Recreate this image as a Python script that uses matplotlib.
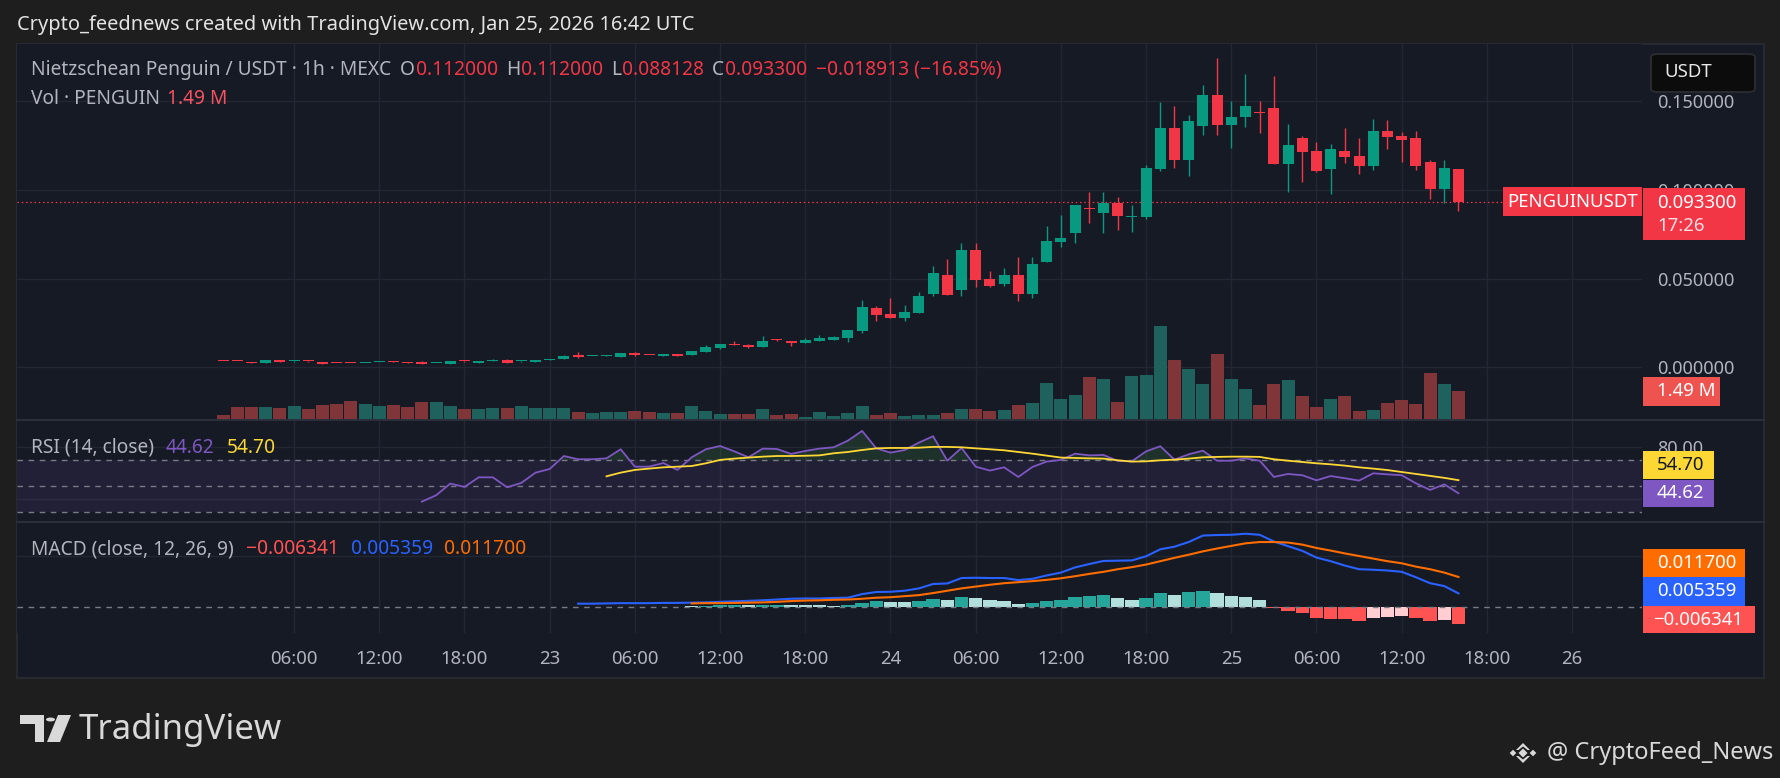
import matplotlib
matplotlib.use('Agg')
import matplotlib.pyplot as plt
import numpy as np
from matplotlib.patches import Rectangle, FancyBboxPatch, Polygon, Circle
from matplotlib.lines import Line2D

# ---------------- data ----------------
# candle open time in hours relative to 25 Jan 2026 00:00 UTC (1h candles)
hours = list(range(-71, 17))
opens = [.0034, .0034, .0030, .0026, .0041, .0033, .0035, .0030, .0025, .0025,
         .0024, .0029, .0030, .0030, .0032, .0023, .0021, .0034, .0023, .0036,
         .0041, .0033, .0031, .0043, .0045, .0071, .0063, .0065, .0060, .0081,
         .0070, .0066, .0075, .0068, .0088, .0111, .0131, .0128, .0116, .0154,
         .0148, .0139, .0150, .0156, .0167, .0207, .0334, .0301, .0280, .0308,
         .0415, .0521, .0438, .0662, .0498, .0472, .0521, .0415, .0596, .0709,
         .0759, .0897, .0872, .0927, .0848, .0850, .1120, .1350, .1171, .1363,
         .1536, .1369, .1414, .1438, .1462, .1149, .1293, .1220, .1120, .1220,
         .1192, .1137, .1333, .1305, .1293, .1158, .1007, .1120]
highs = [.0035, .0035, .0032, .0043, .0042, .0035, .0038, .0031, .0026, .0027,
         .0025, .0032, .0035, .0031, .0033, .0024, .0036, .0035, .0037, .0046,
         .0044, .0035, .0043, .0048, .0070, .0086, .0065, .0067, .0082, .0085,
         .0071, .0076, .0076, .0094, .0124, .0133, .0146, .0129, .0177, .0160,
         .0150, .0163, .0182, .0178, .0210, .0380, .0348, .0393, .0351, .0427,
         .0572, .0611, .0701, .0701, .0543, .0560, .0622, .0622, .0799, .0859,
         .0917, .0989, .0989, .0961, .0915, .1141, .1496, .1474, .1423, .1592,
         .1744, .1502, .1654, .1502, .1643, .1372, .1305, .1271, .1259, .1350,
         .1293, .1400, .1395, .1327, .1333, .1169, .1169, .1120]
lows = [.0033, .0033, .0026, .0025, .0031, .0032, .0032, .0020, .0023, .0023,
        .0023, .0028, .0029, .0025, .0020, .0022, .0020, .0032, .0022, .0035,
        .0025, .0032, .0030, .0042, .0044, .0054, .0062, .0064, .0059, .0066,
        .0068, .0065, .0065, .0067, .0087, .0101, .0124, .0107, .0114, .0148,
        .0122, .0138, .0149, .0155, .0145, .0195, .0263, .0280, .0263, .0308,
        .0404, .0410, .0404, .0455, .0455, .0460, .0376, .0393, .0596, .0680,
        .0703, .0816, .0759, .0776, .0765, .0838, .1109, .1126, .1081, .1312,
        .1312, .1239, .1357, .1323, .1149, .0991, .1047, .1103, .0979, .1154,
        .1092, .1115, .1233, .1160, .1115, .0951, .0929, .088128]
closes = [.0033, .0033, .0026, .0041, .0032, .0034, .0034, .0021, .0024, .0024,
          .0025, .0030, .0029, .0026, .0021, .0024, .0035, .0033, .0036, .0043,
          .0026, .0034, .0041, .0047, .0066, .0060, .0064, .0066, .0081, .0068,
          .0069, .0075, .0066, .0092, .0115, .0131, .0128, .0116, .0148, .0152,
          .0139, .0154, .0163, .0171, .0210, .0340, .0297, .0280, .0312, .0402,
          .0532, .0410, .0662, .0494, .0460, .0521, .0415, .0583, .0712, .0729,
          .0917, .0893, .0927, .0855, .0852, .1124, .1350, .1171, .1389, .1536,
          .1369, .1412, .1474, .1434, .1149, .1254, .1216, .1109, .1231, .1188,
          .1137, .1333, .1301, .1284, .1137, .1007, .1124, .0933]
volume_m = [0.26, 0.67, 0.67, 0.67, 0.62, 0.74, 0.57, 0.77, 0.82, 0.98,
            0.82, 0.72, 0.77, 0.67, 0.92, 0.92, 0.72, 0.57, 0.57, 0.62,
            0.62, 0.72, 0.62, 0.62, 0.62, 0.41, 0.36, 0.41, 0.41, 0.46,
            0.41, 0.36, 0.36, 0.72, 0.46, 0.31, 0.31, 0.31, 0.57, 0.26,
            0.31, 0.15, 0.41, 0.21, 0.36, 0.72, 0.26, 0.36, 0.21, 0.26,
            0.26, 0.36, 0.57, 0.57, 0.46, 0.51, 0.77, 0.87, 1.90, 1.08,
            1.28, 2.21, 2.11, 0.92, 2.28, 2.33, 4.83, 3.08, 2.62, 1.87,
            3.39, 2.13, 1.59, 0.77, 1.87, 2.06, 1.23, 0.67, 1.08, 1.23,
            0.46, 0.51, 0.87, 1.03, 0.82, 2.42, 1.85, 1.49]
# RSI(14) from the 15th candle, its MA from the 28th candle
rsi = [38.2, 43.1, 52.1, 49.5, 56.9, 56.9, 49.2, 52.6, 60.5, 63.3,
       73.3, 70.8, 70.8, 71.5, 78.5, 65.1, 65.1, 67.9, 62.6, 72.3,
       78.5, 81.0, 76.9, 72.3, 79.0, 78.7, 74.9, 77.2, 79.0, 80.0,
       85.1, 92.6, 79.2, 75.9, 77.9, 83.6, 88.5, 69.7, 79.5, 65.1,
       62.1, 64.6, 57.2, 64.9, 69.0, 70.3, 75.1, 73.8, 74.1, 69.5,
       69.2, 76.9, 80.8, 70.5, 74.6, 77.4, 69.7, 69.7, 71.5, 69.7,
       57.2, 59.5, 58.5, 54.6, 57.9, 56.2, 54.4, 60.0, 59.2, 58.5,
       52.3, 47.2, 51.5, 44.62]
rsi_ma = [57.7, 60.5, 62.6, 63.6, 64.6, 65.1, 65.6, 67.7, 70.3, 71.3,
          72.1, 72.8, 73.3, 73.3, 73.5, 73.8, 75.4, 76.4, 77.9, 79.2,
          79.5, 79.5, 79.7, 80.3, 80.3, 80.0, 79.2, 78.5, 77.7, 76.4,
          75.1, 73.6, 72.1, 71.8, 71.5, 71.3, 70.0, 69.0, 69.2, 70.0,
          70.5, 71.3, 72.3, 72.6, 72.8, 72.8, 72.6, 70.8, 69.7, 68.7,
          67.7, 66.9, 65.9, 64.6, 63.6, 62.5, 61.0, 59.5, 58.0, 56.5,
          54.70]
# MACD(12,26,9): MACD line from the 26th candle, signal & histogram from the 34th
macd = [.0014, .0014, .0015, .0016, .0016, .0016, .0017, .0017, .0018, .0019,
        .0021, .0023, .0025, .0027, .0030, .0033, .0034, .0034, .0036, .0037,
        .0051, .0059, .0060, .0064, .0073, .0090, .0092, .0113, .0114, .0113,
        .0113, .0105, .0110, .0123, .0134, .0154, .0167, .0179, .0180, .0181,
        .0197, .0224, .0234, .0252, .0277, .0279, .0280, .0284, .0280, .0254,
        .0236, .0218, .0192, .0178, .0161, .0147, .0145, .0142, .0137, .0116,
        .0093, .0082, .005359]
signal = [.0015, .0016, .0016, .0017, .0018, .0019, .0021, .0024, .0026, .0027,
          .0029, .0030, .0033, .0037, .0039, .0043, .0047, .0055, .0064, .0073,
          .0080, .0087, .0093, .0097, .0101, .0106, .0112, .0120, .0129, .0137,
          .0147, .0155, .0165, .0178, .0191, .0203, .0216, .0227, .0237, .0247,
          .0252, .0252, .0250, .0242, .0229, .0219, .0208, .0198, .0188, .0178,
          .0170, .0157, .0147, .0134, .0117]
hist = [.0005, .0006, .0008, .0009, .0008, .0009, .0010, .0009, .0008, .0007,
        .0006, .0008, .0017, .0023, .0022, .0021, .0026, .0032, .0027, .0040,
        .0036, .0028, .0026, .0013, .0017, .0024, .0030, .0041, .0045, .0046,
        .0036, .0028, .0036, .0055, .0049, .0058, .0063, .0055, .0045, .0040,
        .0028, -.0004, -.0013, -.0023, -.0040, -.0045, -.0046, -.0051, -.0040, -.0036,
        -.0033, -.0040, -.0051, -.0050, -.006341]
tick_hours = [-66, -60, -54, -48, -42, -36, -30, -24, -18, -12, -6, 0, 6, 12, 18, 24]
tick_labels = ['06:00', '12:00', '18:00', '23', '06:00', '12:00', '18:00', '24',
               '06:00', '12:00', '18:00', '25', '06:00', '12:00', '18:00', '26']
price_ticks = [0.0, 0.05, 0.10, 0.15]
last_price = 0.0933
last_volume = 1.49

# ---------------- style ----------------
W, H = 1781, 778
FONT = ['Noto Sans', 'DejaVu Sans']
plt.rcParams['font.family'] = FONT
OUTER = '#1e1e1e'
BG = '#161a25'
GRID = '#232733'
SEP = '#2c303c'
TXT = '#b2b5be'
UP = '#089981'
DN = '#f23645'
LEG = 13.8

fig = plt.figure(figsize=(W / 100, H / 100), dpi=100, facecolor=OUTER)


def fr(x0, y0, x1, y1):
    return [x0 / W, 1 - y1 / H, (x1 - x0) / W, (y1 - y0) / H]


def fx(x):
    return x / W


def fy(y):
    return 1 - y / H


# chart panel
fig.add_artist(Rectangle((fx(17), fy(678)), (1764 - 17) / W, (678 - 44) / H,
                         transform=fig.transFigure, fc=BG, ec='#2a2d35', lw=1.2, zorder=-5))

XMIN = (17 - 1231.3) / 14.2
XMAX = (1642 - 1231.3) / 14.2


def setup(ax, face=BG):
    ax.set_facecolor(face)
    for s in ax.spines.values():
        s.set_visible(False)
    ax.set_xlim(XMIN, XMAX)
    ax.set_xticks(tick_hours)
    ax.tick_params(length=0, labelbottom=False, labelleft=False)
    ax.set_axisbelow(True)


h = np.array(hours, dtype=float)
O = np.array(opens); Hh = np.array(highs); L = np.array(lows); C = np.array(closes)
up = C >= O
ccol = np.where(up, UP, DN)

# ---- main price pane ----
ax_p = fig.add_axes(fr(17, 44, 1642, 420))
setup(ax_p)
ax_p.set_zorder(1)
ax_p.set_ylim((367.3 - 420) / 1773, (367.3 - 44) / 1773)
ax_p.grid(True, color=GRID, lw=1)
ax_p.yaxis.tick_right()
ax_p.set_yticks(price_ticks)
ax_p.set_yticklabels(['%.6f' % v for v in price_ticks])
ax_p.tick_params(axis='y', labelright=True, pad=11, labelsize=13, labelcolor=TXT)
ax_p.vlines(h, L, Hh, colors=ccol, lw=1.0, zorder=3)
body = np.maximum(np.abs(C - O), 0.0006)
ax_p.bar(h, body, bottom=np.minimum(O, C), width=0.77, color=ccol, lw=0, zorder=4)
ax_p.axhline(last_price, color=DN, lw=0.9, ls=(0, (1.2, 2.2)), zorder=2)

# ---- volume (overlay) ----
ax_v = fig.add_axes(fr(17, 44, 1642, 420), sharex=ax_p)
setup(ax_v, face='none')
ax_v.set_zorder(2)
ax_v.set_xticks([])
ax_v.set_yticks([])
ax_v.set_ylim(0, 376 / 19.46)
vcol = np.where(up, '#1f615c', '#803539')
ax_v.bar(h, volume_m, width=0.92, color=vcol, lw=0)

# ---- RSI pane ----
ax_r = fig.add_axes(fr(17, 420, 1642, 522), sharex=ax_p)
setup(ax_r)
ax_r.set_ylim(50 - (522 - 486.3) / 1.3, 50 + (486.3 - 420) / 1.3)
ax_r.set_yticks([40, 80])
ax_r.grid(True, color=GRID, lw=1)
ax_r.yaxis.tick_right()
ax_r.set_yticklabels(['40.00', '80.00'])
ax_r.tick_params(axis='y', labelright=True, pad=11, labelsize=13, labelcolor=TXT)
ax_r.axhspan(30, 70, color='#7e57c2', alpha=0.11, lw=0)
for lv in (70, 50, 30):
    ax_r.axhline(lv, color='#787b86', lw=1, ls=(0, (4, 4)))
hr = h[14:]
rr = np.array(rsi)
ax_r.fill_between(hr, rr, 70, where=rr >= 70, interpolate=True, color='#4caf50', alpha=0.16, lw=0)
ax_r.plot(hr, rr, color='#7e57c2', lw=1.3)
ax_r.plot(h[27:], rsi_ma, color='#fdd835', lw=1.3)

# ---- MACD pane ----
ax_m = fig.add_axes(fr(17, 522, 1642, 633), sharex=ax_p)
setup(ax_m)
ax_m.set_ylim((607.3 - 633) / 2590, (607.3 - 522) / 2590)
ax_m.set_yticks([0.02])
ax_m.grid(True, color=GRID, lw=1)
ax_m.set_yticklabels([])
ax_m.axhline(0, color='#787b86', lw=1, ls=(0, (4, 4)))
hs = np.array(hist)
hcol = []
for k, v in enumerate(hs):
    prev = hs[k - 1] if k > 0 else v
    if v >= 0:
        hcol.append('#26a69a' if v > prev else '#b2dfdb')
    else:
        hcol.append('#ff5252' if v < prev else '#ffcdd2')
ax_m.bar(h[33:], hs, width=0.93, color=hcol, lw=0)
ax_m.plot(h[25:], macd, color='#2962ff', lw=1.5)
ax_m.plot(h[33:], signal, color='#ff6d00', lw=1.5)
ax_m.set_xticklabels(tick_labels)
ax_m.tick_params(axis='x', labelbottom=True, pad=12, labelsize=13.4, labelcolor=TXT)

# pane separators
for yy in (420, 522):
    fig.add_artist(Line2D([fx(17), fx(1764)], [fy(yy), fy(yy)], transform=fig.transFigure,
                          color=SEP, lw=1.4, zorder=5))

renderer = fig.canvas.get_renderer()


def parts_text(x, y, parts, size=LEG, weight='normal'):
    for s, c, gap in parts:
        t = fig.text(fx(x), fy(y), s, color=c, fontsize=size, ha='left', va='center',
                     weight=weight, zorder=20)
        x += t.get_window_extent(renderer=renderer).width + gap


# header
fig.text(fx(17), fy(25), 'Crypto_feednews created with TradingView.com, Jan 25, 2026 16:42 UTC',
         color='#e3e3e3', fontsize=14.4, weight='semibold', ha='left', va='center')

RED = '#f23645'
parts_text(31, 70, [('Nietzschean Penguin / USDT · 1h · MEXC', TXT, 9),
                    ('O', TXT, 1), ('0.112000', RED, 8),
                    ('H', TXT, 1), ('0.112000', RED, 8),
                    ('L', TXT, 1), ('0.088128', RED, 8),
                    ('C', TXT, 1), ('0.093300', RED, 8),
                    ('\u22120.018913 (\u221216.85%)', RED, 0)])
parts_text(31, 99, [('Vol · PENGUIN', TXT, 7), ('1.49 M', '#f7525f', 0)])
parts_text(31, 448, [('RSI (14, close)', TXT, 12), ('44.62', '#7e57c2', 12), ('54.70', '#fdd835', 0)])
parts_text(31, 549, [('MACD (close, 12, 26, 9)', TXT, 12), ('\u22120.006341', '#ff5252', 12),
                     ('0.005359', '#2962ff', 11), ('0.011700', '#ff6d00', 0)])


def ypx(ax, v):
    return H - ax.transData.transform((0, v))[1]


def badge(x0, x1, yc, hgt, fc, text, tc, size=13, tx=None, weight='normal'):
    fig.add_artist(Rectangle((fx(x0), fy(yc + hgt / 2)), (x1 - x0) / W, hgt / H,
                             transform=fig.transFigure, fc=fc, ec='none', zorder=15))
    if tx is None:
        fig.text(fx((x0 + x1) / 2), fy(yc), text, color=tc, fontsize=size, ha='center',
                 va='center', zorder=16, weight=weight)
    else:
        fig.text(fx(tx), fy(yc), text, color=tc, fontsize=size, ha='left',
                 va='center', zorder=16, weight=weight)


# last price labels
yp = ypx(ax_p, last_price)
badge(1503, 1642, yp, 29, RED, 'PENGUINUSDT', 'white', size=13.4, weight='medium')
fig.add_artist(Rectangle((fx(1643), fy(yp + 38)), 102 / W, 52 / H, transform=fig.transFigure,
                         fc=RED, ec='none', zorder=15))
fig.text(fx(1657), fy(yp + 1), '0.093300', color='white', fontsize=13.4, ha='left', va='center', zorder=16)
fig.text(fx(1657), fy(yp + 24), '17:26', color='#ffe1e4', fontsize=13.4, ha='left', va='center', zorder=16)

# USDT currency box
fig.add_artist(FancyBboxPatch((fx(1651), fy(92)), 104 / W, 38 / H,
                              boxstyle='round,pad=0,rounding_size=0.004',
                              transform=fig.transFigure, fc='#0c0c0d', ec='#2e2f33', lw=1.2, zorder=15))
fig.text(fx(1664), fy(72), 'USDT', color='#e8e8e8', fontsize=13.4, ha='left', va='center', zorder=16)

# volume label
yv = H - ax_v.transData.transform((0, last_volume))[1]
badge(1643, 1720, yv, 29, '#ef5350', '1.49 M', 'white', size=13.4, tx=1657)

# RSI labels
badge(1643, 1714, ypx(ax_r, 54.70) - 15, 28, '#fdd835', '54.70', '#131722', size=13.4, tx=1657)
badge(1643, 1714, ypx(ax_r, 44.62), 27, '#7e57c2', '44.62', 'white', size=13.4, tx=1657)

# MACD labels
badge(1643, 1745, ypx(ax_m, 0.0117) - 14, 28, '#ff6d00', '0.011700', 'white', size=13.4, tx=1657)
badge(1643, 1745, ypx(ax_m, 0.005359) - 2, 29, '#2962ff', '0.005359', 'white', size=13.4, tx=1657)
badge(1643, 1755, ypx(ax_m, -0.006341) - 4, 27, '#ff5252', '\u22120.006341', 'white', size=13.4, tx=1653)

# TradingView logo
LOGO = '#d9d9d9'
fig.add_artist(Polygon([(fx(20), fy(715)), (fx(44), fy(715)), (fx(44), fy(742)), (fx(35), fy(742)),
                        (fx(35), fy(724)), (fx(20), fy(724))], closed=True,
                       transform=fig.transFigure, fc=LOGO, ec='none'))
fig.add_artist(Circle((fx(50.5), fy(719.5)), 4.5 / W, transform=fig.transFigure, fc=LOGO, ec='none'))
fig.add_artist(Polygon([(fx(58), fy(715)), (fx(71), fy(715)), (fx(60), fy(742)), (fx(47), fy(742))],
                       closed=True, transform=fig.transFigure, fc=LOGO, ec='none'))
fig.text(fx(79), fy(730), 'TradingView', color=LOGO, fontsize=25, weight='bold',
         ha='left', va='center')

# Binance-style mark + handle
cx, cy = 1523, 753


def diamond(x, y, r):
    return Polygon([(fx(x - r), fy(y)), (fx(x), fy(y - r)), (fx(x + r), fy(y)), (fx(x), fy(y + r))],
                   closed=True, transform=fig.transFigure, fc=LOGO, ec='none')


fig.add_artist(diamond(cx, cy, 4.5))
for dx, dy in [(-10, 0), (10, 0)]:
    fig.add_artist(diamond(cx + dx, cy + dy, 3.3))
# upper and lower chevrons
for sgn in (-1, 1):
    pts = [(cx - 7, cy + sgn * 3), (cx, cy + sgn * 10), (cx + 7, cy + sgn * 3),
           (cx + 4.5, cy + sgn * 3), (cx, cy + sgn * 6.5), (cx - 4.5, cy + sgn * 3)]
    fig.add_artist(Polygon([(fx(a), fy(b)) for a, b in pts], closed=True,
                           transform=fig.transFigure, fc=LOGO, ec='none'))
fig.text(fx(1773), fy(753), '@ CryptoFeed_News', color=LOGO, fontsize=17,
         ha='right', va='center')

fig.savefig('out.png', dpi=100, facecolor=OUTER)
